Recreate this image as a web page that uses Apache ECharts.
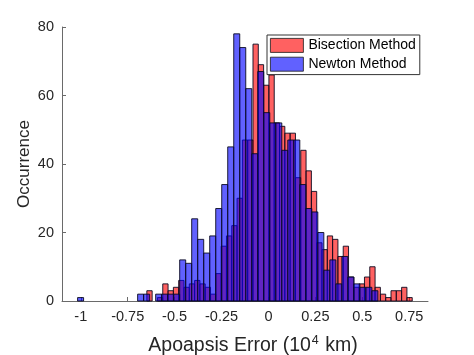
<!DOCTYPE html>
<html>
<head>
<meta charset="utf-8">
<script src="https://cdn.jsdelivr.net/npm/echarts@6/dist/echarts.min.js"></script>
<style>
html,body{margin:0;padding:0;background:#fff;}
#c{width:474px;height:355px;}
</style>
</head>
<body>
<div id="c"></div>
<script>
// ---- data ----
var seriesNames = ['Bisection Method', 'Newton Method'];
var xTicks = [-1, -0.75, -0.5, -0.25, 0, 0.25, 0.5, 0.75];
var yTicks = [0, 20, 40, 60, 80];
var binCount = 50;
// histogram ranges (left edge of first bin, right edge of last bin)
var bisectionRange = [-0.648, 0.766];
var newtonRange = [-1.017, 0.583];
// counts per bin (50 bins each)
var bisectionCounts = [3, 0, 1, 5, 3, 4, 6, 4, 5, 6,
                       5, 4, 2, 8, 16, 19, 22, 30, 47, 47,
                       75, 69, 63, 66, 52, 51, 49, 49, 36, 44,
                       38, 32, 17, 15, 19, 18, 13, 16, 7, 4,
                       5, 7, 10, 4, 2, 1, 3, 3, 4, 1];
var newtonCounts = [1, 0, 0, 0, 0, 0, 0, 0, 0, 0,
                    2, 2, 0, 2, 2, 2, 2, 12, 11, 24,
                    18, 14, 19, 27, 34, 45, 78, 74, 62, 43,
                    67, 55, 52, 52, 44, 47, 47, 34, 27, 26,
                    20, 9, 12, 5, 13, 7, 5, 4, 4, 3];

function toBins(range, counts) {
  var w = (range[1] - range[0]) / counts.length;
  var out = [];
  for (var i = 0; i < counts.length; i++) {
    out.push([range[0] + i * w, range[0] + (i + 1) * w, counts[i]]);
  }
  return out;
}

var FONT = "'Liberation Sans', Arial, Helvetica, sans-serif";
var TXT = '#262626';
var AX = '#6a6a6a';

function makeRender(fill) {
  return function (params, api) {
    var h = api.value(2);
    if (!h) return null;
    var p0 = api.coord([api.value(0), h]);
    var p1 = api.coord([api.value(1), 0]);
    return {
      type: 'rect',
      shape: { x: p0[0], y: p0[1], width: p1[0] - p0[0], height: p1[1] - p0[1] },
      style: { fill: fill, stroke: '#0a0a20', lineWidth: 0.9 }
    };
  };
}

var redFill = 'rgba(255,0,0,0.62)';
var blueFill = 'rgba(0,0,255,0.62)';

var chart = echarts.init(document.getElementById('c'), null, { renderer: 'canvas' });
chart.setOption({
  animation: false,
  backgroundColor: '#fff',
  grid: { left: 62, right: 46, top: 27, bottom: 54, containLabel: false, outerBoundsMode: 'none' },
  legend: {
    orient: 'vertical',
    left: 267, top: 35,
    padding: [3, 4, 3, 3],
    itemGap: 4,
    itemWidth: 33, itemHeight: 14,
    backgroundColor: '#fff',
    borderColor: '#333', borderWidth: 1, borderRadius: 0,
    textStyle: { fontFamily: FONT, fontSize: 14, color: '#000' },
    data: [
      { name: seriesNames[0], icon: 'rect', itemStyle: { color: redFill, borderColor: '#1a1a1a', borderWidth: 0.8 } },
      { name: seriesNames[1], icon: 'rect', itemStyle: { color: blueFill, borderColor: '#1a1a1a', borderWidth: 0.8 } }
    ]
  },
  xAxis: {
    type: 'value', min: -1.1, max: 0.85,
    name: '{a|Apoapsis Error (10}{s|4}{a| km)}',
    nameLocation: 'middle', nameGap: 33,
    nameMoveOverlap: false,
    nameTextStyle: {
      padding: [0, 0, 0, 16],
      rich: {
        a: { fontFamily: FONT, fontSize: 19.5, color: TXT },
        s: { fontFamily: FONT, fontSize: 12.5, color: TXT, padding: [0, 1, 10, 1] }
      }
    },
    axisLine: { show: true, onZero: false, lineStyle: { color: AX, width: 1 } },
    axisTick: { show: true, inside: true, length: 4, customValues: xTicks, lineStyle: { color: AX } },
    axisLabel: { customValues: xTicks, fontFamily: FONT, fontSize: 14.5, color: TXT, margin: 8 },
    splitLine: { show: false }
  },
  yAxis: {
    type: 'value', min: 0, max: 80, interval: 20,
    name: 'Occurrence',
    nameLocation: 'middle', nameGap: 29,
    nameMoveOverlap: false,
    nameTextStyle: { fontFamily: FONT, fontSize: 17, color: TXT },
    axisLine: { show: true, onZero: false, lineStyle: { color: AX, width: 1 } },
    axisTick: { show: true, inside: true, length: 4, lineStyle: { color: AX } },
    axisLabel: { fontFamily: FONT, fontSize: 14.5, color: TXT, margin: 8 },
    splitLine: { show: false }
  },
  series: [
    {
      name: seriesNames[0], type: 'custom',
      itemStyle: { color: redFill },
      renderItem: makeRender(redFill),
      encode: { x: [0, 1], y: 2 },
      data: toBins(bisectionRange, bisectionCounts),
      z: 2
    },
    {
      name: seriesNames[1], type: 'custom',
      itemStyle: { color: blueFill },
      renderItem: makeRender(blueFill),
      encode: { x: [0, 1], y: 2 },
      data: toBins(newtonRange, newtonCounts),
      z: 3
    }
  ]
});
</script>
</body>
</html>
